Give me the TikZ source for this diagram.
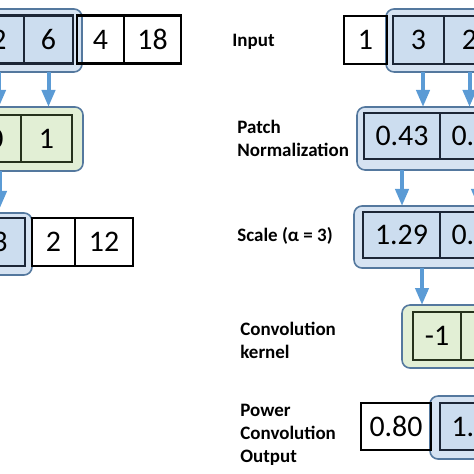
\documentclass[tikz,border=0pt]{standalone}
\usepackage{fontspec}
\setmainfont{Carlito}
\usetikzlibrary{arrows.meta,positioning}
\definecolor{flowblue}{RGB}{91,155,213}
\definecolor{hlfill}{RGB}{214,227,242}
\definecolor{cellfill}{RGB}{204,221,239}
\definecolor{hledge}{RGB}{84,120,158}
\definecolor{kernfill}{RGB}{226,239,213}
\definecolor{navyedge}{RGB}{28,38,54}
\definecolor{kernedge}{RGB}{38,50,28}
\newcommand{\NumFont}{\fontsize{17pt}{20pt}\selectfont}
\newcommand{\LblFont}{\fontsize{10.8pt}{13pt}\selectfont\bfseries}

\begin{document}
\begin{tikzpicture}[
  cell/.style={draw=black, line width=1.3pt, minimum height=0.96cm, inner sep=0pt, outer sep=0pt, font=\NumFont},
  bcell/.style={cell, draw=navyedge, fill=cellfill},
  gcell/.style={cell, draw=kernedge, fill=kernfill},
  hlbox/.style={draw=hledge, fill=hlfill, line width=0.9pt, rounded corners=1.6mm, inner sep=0pt, outer sep=0pt},
  kbox/.style={hlbox, fill=kernfill},
  flow/.style={draw=flowblue, line width=0.8mm, -{Triangle[width=2.6mm, length=3.4mm]}},
  lbl/.style={font=\LblFont, align=left, anchor=west, inner sep=0pt},
]
\useasboundingbox (0,0) rectangle (9.48,-9.48);
\clip (0,0) rectangle (9.48,-9.48);

% ===================== Left panel: next patch =====================
\node[hlbox, minimum width=2.04cm, minimum height=1.26cm] (hlL) at (0.62,-0.81) {};
\node[bcell, minimum width=1.0cm] (l2) at (-0.02,-0.79) {2};
\node[bcell, minimum width=0.98cm] (l6) at (0.97,-0.79) {6};
\node[cell, minimum width=0.94cm] (l4) at (2.01,-0.79) {4};
\node[cell, minimum width=1.14cm, right=0pt of l4] (l18) {18};

% kernel under the patch
\node[kbox, minimum width=2.06cm, minimum height=1.28cm] (kL) at (0.63,-2.78) {};
\node[gcell, minimum width=1.0cm, minimum height=0.94cm] (l0) at (-0.08,-2.77) {0};
\node[gcell, minimum width=1.02cm, minimum height=0.94cm] (l1) at (0.93,-2.77) {1};

\draw[flow] (l2 |- hlL.south) -- (l2 |- kL.north);
\draw[flow] (l6 |- hlL.south) -- (l6 |- kL.north);

% output row
\node[hlbox, minimum width=1.04cm, minimum height=1.24cm] (hlB) at (0.12,-4.88) {};
\node[bcell, minimum width=1.0cm] (l3) at (0,-4.84) {3};
\node[cell, minimum width=0.86cm] (l2b) at (1.07,-4.84) {2};
\node[cell, minimum width=1.16cm, right=0pt of l2b] (l12) {12};

\draw[flow, shorten >=0.1cm] (l3 |- kL.south) -- (l3 |- hlB.north);

% ===================== Right panel: steps =====================
\node[lbl, anchor=base west] (tIn) at (4.64,-0.94) {Input};
\node[lbl] (tPN) at (4.74,-2.76) {Patch\\Normalization};
\node[lbl] (tSc) at (4.74,-4.72) {Scale (α = 3)};
\node[lbl] (tCk) at (4.8,-6.8) {Convolution\\kernel};
\node[lbl] (tPo) at (4.8,-8.7) {Power\\Convolution\\Output};

% input row
\node[hlbox, minimum width=2.68cm, minimum height=1.26cm] (hlIn) at (9.06,-0.81) {};
\node[cell, minimum width=0.86cm] (r1) at (7.31,-0.8) {1};
\node[bcell, minimum width=1.02cm] (r3) at (8.37,-0.8) {3};
\node[bcell, minimum width=1.02cm, right=0pt of r3] (r2) {2};

% patch normalization
\node[hlbox, minimum width=3.46cm, minimum height=1.26cm] (pbox) at (8.87,-2.77) {};
\node[bcell, minimum width=1.52cm, minimum height=0.92cm] (p43) at (8.04,-2.72) {0.43};
\node[bcell, minimum width=1.52cm, minimum height=0.92cm, right=0pt of p43] (p2) {0.\phantom{00}};

\coordinate (aIn) at (8.46,0);
\draw[flow] (aIn |- hlIn.south) -- (aIn |- pbox.north);
\draw[flow] (r2 |- hlIn.south) -- (r2 |- pbox.north);

% scale
\node[hlbox, minimum width=3.52cm, minimum height=1.24cm] (sbox) at (8.84,-4.74) {};
\node[bcell, minimum width=1.54cm, minimum height=0.92cm] (s129) at (8.03,-4.7) {1.29};
\node[bcell, minimum width=1.52cm, minimum height=0.92cm, right=0pt of s129] (s2) {0.\phantom{00}};

\draw[flow] (p43 |- pbox.south) -- (p43 |- sbox.north);
\draw[flow] (p2 |- pbox.south) -- (p2 |- sbox.north);

% convolution kernel
\node[kbox, minimum width=2.56cm, minimum height=1.26cm] (kbx) at (9.32,-6.73) {};
\node[gcell, minimum width=0.96cm] (k1) at (8.74,-6.72) {-1};
\node[gcell, minimum width=0.96cm, right=0pt of k1] (k2) {};

\coordinate (aK) at (8.44,0);
\draw[flow] (aK |- sbox.south) -- (aK |- kbx.north);

% power convolution output
\node[hlbox, minimum width=2.0cm, minimum height=1.26cm] (hlO) at (9.6,-8.55) {};
\node[cell, minimum width=1.4cm, minimum height=0.94cm] (o80) at (7.92,-8.53) {0.80};
\node[bcell, minimum width=1.52cm, minimum height=0.94cm] (o2) at (9.56,-8.53) {1.\phantom{00}};

\end{tikzpicture}
\end{document}
